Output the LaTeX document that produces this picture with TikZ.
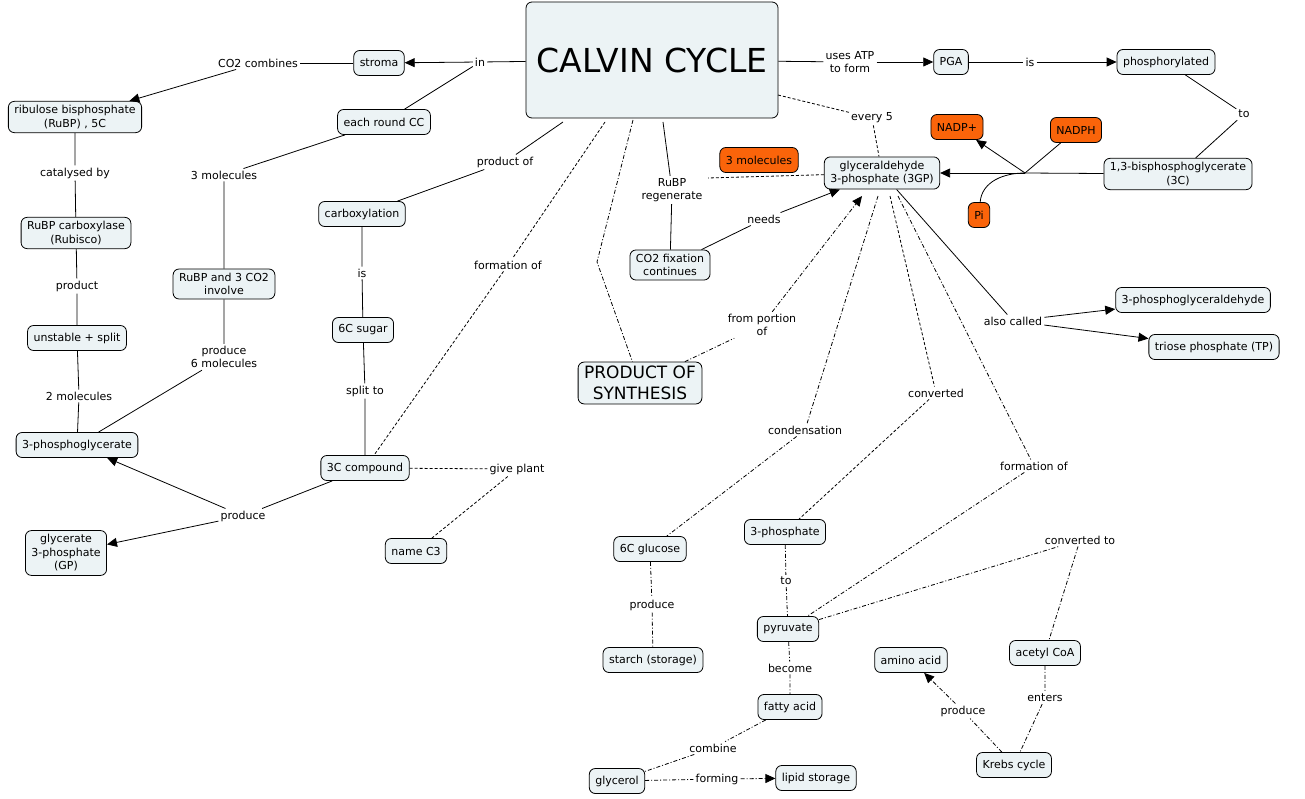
\documentclass[tikz,border=0pt]{standalone}
\usepackage{fontspec}
\setmainfont{DejaVu Sans}
\usetikzlibrary{arrows.meta}
\definecolor{boxc}{RGB}{236,243,245}
\definecolor{orng}{RGB}{250,100,10}
\begin{document}
\begin{tikzpicture}[x=1pt,y=-1pt,
 every node/.style={font=\fontsize{11}{13.5}\selectfont},
 bx/.style={draw=black,line width=0.8pt,fill=boxc,rounded corners=6pt,align=center,inner xsep=6pt,inner ysep=4pt,minimum height=25pt},
 ob/.style={draw=black,line width=0.8pt,fill=orng,rounded corners=6pt,align=center,inner xsep=6pt,minimum height=25pt},
 lb/.style={align=center,inner sep=2pt},
 ar/.style={-{Triangle[length=10pt,width=9pt]}},
 ln/.style={draw=black,line width=0.8pt},
 dsh/.style={dash pattern=on 3pt off 2pt},
 dd/.style={dash pattern=on 4pt off 2pt on 1pt off 2pt}]
\useasboundingbox[fill=white] (0,0) rectangle (1305,799);
% main nodes
\node[bx,minimum width=252pt,minimum height=116pt,font=\fontsize{33}{38}\selectfont] (cc) at (652,60) {CALVIN CYCLE};
\node[bx] (stroma) at (379,63) {stroma};
\node[bx] (round) at (384,122) {each round CC};
\node[bx] (rubp) at (75,117) {ribulose bisphosphate\\(RuBP) , 5C};
\node[bx] (rubisco) at (76,233) {RuBP carboxylase\\(Rubisco)};
\node[bx] (unst) at (77,338) {unstable + split};
\node[bx] (pg) at (77,445) {3-phosphoglycerate};
\node[bx] (gp) at (66,553) {glycerate\\3-phosphate\\(GP)};
\node[bx] (inv) at (224,284) {RuBP and 3 CO2\\involve};
\node[bx] (carb) at (362,214) {carboxylation};
\node[bx] (sugar) at (363,330) {6C sugar};
\node[bx] (c3c) at (365,468) {3C compound};
\node[bx] (nc3) at (416,551) {name C3};
\node[bx] (pga) at (951,62) {PGA};
\node[bx] (phos) at (1166,62) {phosphorylated};
\node[bx] (bis) at (1178,174) {1,3-bisphosphoglycerate\\(3C)};
\node[ob] (nadp) at (957,127) {NADP+};
\node[ob] (nadph) at (1076,130) {NADPH};
\node[ob] (pi) at (979,215) {Pi};
\node[bx] (g3p) at (882,173) {glyceraldehyde\\3-phosphate (3GP)};
\node[ob] (three) at (759,160) {3 molecules};
\node[bx] (fix) at (670,265) {CO2 fixation\\continues};
\node[bx,font=\fontsize{17}{21}\selectfont,inner xsep=6pt] (prod) at (640,383) {PRODUCT OF\\SYNTHESIS};
\node[bx] (pgal) at (1193,300) {3-phosphoglyceraldehyde};
\node[bx] (tp) at (1214,347) {triose phosphate (TP)};
\node[bx] (glu) at (650,549) {6C glucose};
\node[bx] (p3) at (785,532) {3-phosphate};
\node[bx] (starch) at (653,660) {starch (storage)};
\node[bx] (pyr) at (788,629) {pyruvate};
\node[bx] (fat) at (790,707) {fatty acid};
\node[bx] (glyc) at (617,781) {glycerol};
\node[bx] (lipid) at (816,778) {lipid storage};
\node[bx] (acoa) at (1045,653) {acetyl CoA};
\node[bx] (amino) at (911,660) {amino acid};
\node[bx] (krebs) at (1014,765) {Krebs cycle};
% labels
\node[lb] (lin) at (480,62) {in};
\node[lb] (lco2) at (258,63) {CO2 combines};
\node[lb] (lcat) at (75,173) {catalysed by};
\node[lb] (lprod) at (77,286) {product};
\node[lb] (l2m) at (79,396) {2 molecules};
\node[lb] (l3m) at (224,175) {3 molecules};
\node[lb] (l6m) at (224,357) {produce\\6 molecules};
\node[lb] (lpof) at (505,162) {product of};
\node[lb] (lis) at (362,273) {is};
\node[lb] (lsplit) at (365,391) {split to};
\node[lb] (lgive) at (517,469) {give plant};
\node[lb] (lpr) at (243,516) {produce};
\node[lb] (lform) at (508,265) {formation of};
\node[lb] (lats) at (850,62) {uses ATP\\to form};
\node[lb] (lis2) at (1030,62) {is};
\node[lb] (lto) at (1244,114) {to};
\coordinate (jn) at (1025,173);
\node[lb] (lev) at (872,118) {every 5};
\node[lb] (lreg) at (672,190) {RuBP\\regenerate};
\coordinate (l3) at (708,178);
\node[lb] (lneeds) at (764,219) {needs};
\node[lb] (lport) at (762,325) {from portion\\of};
\node[lb] (lalso) at (1013,321) {also called};
\node[lb] (lconv) at (936,393) {converted};
\node[lb] (lcond) at (805,430) {condensation};
\node[lb] (lform2) at (1034,466) {formation of};
\node[lb] (lprod2) at (652,605) {produce};
\node[lb] (lto2) at (786,581) {to};
\node[lb] (lbec) at (790,668) {become};
\node[lb] (lcomb) at (713,748) {combine};
\node[lb] (lforming) at (717,779) {forming};
\node[lb] (lconvto) at (1080,540) {converted to};
\node[lb] (lent) at (1045,698) {enters};
\node[lb] (lprod3) at (963,711) {produce};
\coordinate (kink) at (597,262);
% connectors
\draw[ln] (cc) -- (lin); \draw[ln,ar] (lin) -- (stroma);
\draw[ln] (lin) -- (round);
\draw[ln] (stroma) -- (lco2); \draw[ln,ar] (lco2) -- (rubp);
\draw[ln] (round) -- (l3m) -- (inv);
\draw[ln] (inv) -- (l6m) -- (pg);
\draw[ln] (rubp) -- (lcat) -- (rubisco) -- (lprod) -- (unst) -- (l2m) -- (pg);
\draw[ln] (563,122) -- (lpof) -- (carb);
\draw[ln] (carb) -- (lis) -- (sugar) -- (lsplit) -- (c3c);
\draw[ln] (c3c) -- (lpr); \draw[ln,ar] (lpr) -- (pg); \draw[ln,ar] (lpr) -- (gp);
\draw[ln,dsh] (605,122) -- (lform) -- (c3c);
\draw[ln,dsh] (c3c) -- (lgive) -- (nc3);
\draw[ln,dd] (633,120) -- (kink) -- (prod);
\draw[ln] (cc) -- (lats); \draw[ln,ar] (lats) -- (pga);
\draw[ln] (pga) -- (lis2); \draw[ln,ar] (lis2) -- (phos);
\draw[ln] (phos) -- (lto) -- (bis);
\draw[ln] (bis) -- (jn); \draw[ln,ar] (jn) -- (g3p); \draw[ln,ar] (jn) -- (nadp);
\draw[ln] (nadph) -- (jn);
\draw[ln] (pi) to[out=85,in=180] (jn);
\draw[ln,dsh] (778,95) -- (lev) -- (g3p);
\draw[ln] (663,122) -- (lreg) -- (fix);
\draw[ln,dsh] (g3p) -- (l3);
\draw[ln] (fix) -- (lneeds); \draw[ln,ar] (lneeds) -- (g3p);
\draw[ln,dd] (prod) -- (lport); \draw[ln,dd,ar] (lport) -- (862,196);
\draw[ln] (g3p) -- (lalso); \draw[ln,ar] (lalso) -- (pgal); \draw[ln,ar] (lalso) -- (tp);
\draw[ln,dd] (878,196) -- (lcond) -- (glu);
\draw[ln,dsh] (890,196) -- (lconv) -- (p3);
\draw[ln,dd] (898,196) -- (lform2) -- (pyr);
\draw[ln,dd] (pyr) -- (lconvto) -- (acoa);
\draw[ln,dd] (glu) -- (lprod2) -- (starch);
\draw[ln,dd] (p3) -- (lto2) -- (pyr);
\draw[ln,dd] (pyr) -- (lbec) -- (fat);
\draw[ln,dd] (fat) -- (lcomb) -- (glyc);
\draw[ln,dd] (glyc) -- (lforming); \draw[ln,dd,ar] (lforming) -- (lipid);
\draw[ln,dd] (acoa) -- (lent) -- (krebs);
\draw[ln,dd] (krebs) -- (lprod3); \draw[ln,dd,ar] (lprod3) -- (amino);
\end{tikzpicture}
\end{document}
